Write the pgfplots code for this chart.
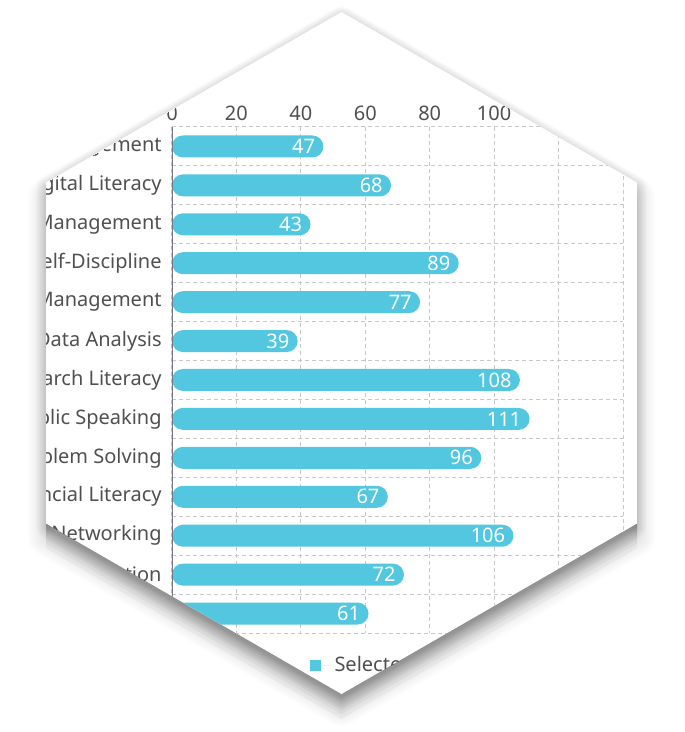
\documentclass[border=0pt]{standalone}
\usepackage{pgfplots}
\pgfplotsset{compat=1.18}
\usepackage{fontspec}
\setmainfont{Noto Sans}
\definecolor{barc}{RGB}{82,199,223}
\definecolor{txt}{RGB}{80,80,80}
\definecolor{gridc}{RGB}{200,200,200}
\definecolor{axc}{RGB}{120,120,130}
\begin{document}
\begin{tikzpicture}
\useasboundingbox (0,0) rectangle (342pt,366pt);
\fill[white] (0,0) rectangle (342pt,366pt);
\def\hex{(170.75pt,360pt) -- (318.5pt,274.75pt) -- (318.5pt,104.25pt) -- (170.75pt,19pt) -- (23pt,104.25pt) -- (23pt,274.75pt) -- cycle}
\begin{scope}[yshift=-2pt]
\foreach \w in {1,2,...,10}{\draw[black, opacity=0.01, line width=\w pt, line join=round] \hex;}
\end{scope}
\begin{scope}[yshift=-7pt]
\foreach \w in {2,4,...,18}{\draw[black, opacity=0.012, line width=\w pt, line join=round] \hex;}
\end{scope}
\foreach \s in {0.6,1.2,1.8,2.4,3,3.8,4.6,5.6,6.8,8.2,10,12.5}{\fill[black, opacity=0.03, yshift=-\s pt] \hex;}
\fill[white] \hex;
\begin{scope}
\clip \hex;
\begin{axis}[
  scale only axis, width=225.5pt, height=253pt,
  at={(86pt,49.5pt)}, anchor=south west,
  xbar, bar width=11pt,
  xmin=0, xmax=140, ymin=-0.5, ymax=12.5, y dir=reverse,
  xtick={0,20,...,140}, xticklabel pos=upper,
  ytick={0,...,12},
  yticklabels={Project Management, Digital Literacy, Time Management, Self-Discipline, Stress Management, Data Analysis, Research Literacy, Public Speaking, Problem Solving, Financial Literacy, Networking, Communication, Critical Thinking},
  minor ytick={-0.5,0.5,...,12.5},
  major tick length=0pt, minor tick length=0pt,
  xmajorgrids, yminorgrids, ymajorgrids=false,
  grid style={gridc, dash pattern=on 2pt off 1.5pt, line width=0.5pt},
  minor grid style={gridc, dash pattern=on 2pt off 1.5pt, line width=0.5pt},
  axis line style={draw=none},
  /pgf/number format/assume math mode=true,
  tick label style={font=\fontsize{10}{12}\selectfont, text=txt},
  xticklabel style={anchor=base, yshift=3pt, inner sep=0pt},
  yticklabel style={anchor=east, xshift=-5pt, inner sep=0pt},
  nodes near coords,
  nodes near coords style={anchor=east, text=white, inner sep=0pt, xshift=-4pt, font=\fontsize{10}{12}\selectfont},
  legend style={at={(0.304,-0.065)}, anchor=west, draw=none, fill=none, inner sep=0pt, font=\fontsize{10}{12}\selectfont, text=txt},
  legend image code/.code={\fill[barc, sharp corners] (0pt,-2.75pt) rectangle (5.5pt,2.75pt); \path (0pt,0pt) -- (10.5pt,0pt);},
]
\addplot[fill=barc, draw=none, rounded corners=5.5pt] coordinates {
(47,0) (68,1) (43,2) (89,3) (77,4) (39,5) (108,6) (111,7) (96,8) (67,9) (106,10) (72,11) (61,12)};
\addlegendentry{Selected}
\draw[axc, line width=0.75pt] (rel axis cs:0,0) -- (rel axis cs:0,1);
\end{axis}
\end{scope}
\end{tikzpicture}
\end{document}
